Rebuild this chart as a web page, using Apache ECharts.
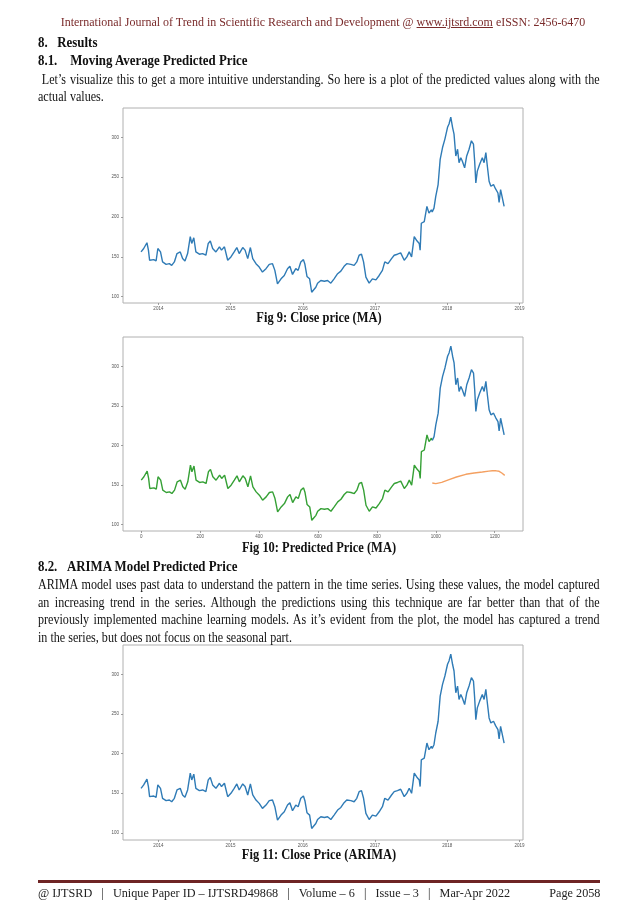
<!DOCTYPE html>
<html>
<head>
<meta charset="utf-8">
<script src="https://cdn.jsdelivr.net/npm/echarts@6/dist/echarts.min.js"></script>
<style>
  html, body { margin: 0; padding: 0; background: #fff; }
  #page { position: relative; width: 638px; height: 903px; overflow: hidden; font-family: "Liberation Serif", "DejaVu Serif", serif; color: #111; }
  #chart { position: absolute; left: 0; top: 0; width: 638px; height: 903px; }
  .t { position: absolute; white-space: nowrap; }
  .hdr { left: 4px; width: 638px; text-align: center; font-size: 12.6px; color: #7a2b2b; top: 15px; transform: scaleX(0.95); transform-origin: 319px 0; }
  .hdr u { text-decoration: underline; }
  .h { left: 38px; font-weight: bold; font-size: 14px; transform: scaleX(0.92); transform-origin: 0 0; }
  .l { left: 38px; width: 631px; font-size: 13.6px; line-height: 17px; text-align: justify; text-align-last: justify; transform: scaleX(0.89); transform-origin: 0 0; }
  .l.last { text-align-last: left; }
  .cap { left: 0; width: 638px; text-align: center; font-weight: bold; font-size: 14px; transform: scaleX(0.89); transform-origin: 319px 0; }
  .rule { position: absolute; left: 38px; width: 562px; top: 880px; height: 3px; background: #6e2424; }
  .foot { top: 886px; font-size: 12.5px; color: #222; transform: scaleX(0.975); }
</style>
</head>
<body>
<div id="page">
  <div id="chart"></div>
  <div class="t hdr">International Journal of Trend in Scientific Research and Development @ <u>www.ijtsrd.com</u> eISSN: 2456-6470</div>
  <div class="t h" style="top:35px">8.&nbsp;&nbsp;&nbsp;Results</div>
  <div class="t h" style="top:53px">8.1.&nbsp;&nbsp;&nbsp;&nbsp;Moving Average Predicted Price</div>
  <div class="t l" style="top:71px">&nbsp;Let’s visualize this to get a more intuitive understanding. So here is a plot of the predicted values along with the</div>
  <div class="t l last" style="top:88px">actual values.</div>
  <div class="t cap" style="top:310px">Fig 9: Close price (MA)</div>
  <div class="t cap" style="top:540px">Fig 10: Predicted Price (MA)</div>
  <div class="t h" style="top:559px">8.2.&nbsp;&nbsp;&nbsp;ARIMA Model Predicted Price</div>
  <div class="t l" style="top:576px">ARIMA model uses past data to understand the pattern in the time series. Using these values, the model captured</div>
  <div class="t l" style="top:594px">an increasing trend in the series. Although the predictions using this technique are far better than that of the</div>
  <div class="t l" style="top:611px">previously implemented machine learning models. As it’s evident from the plot, the model has captured a trend</div>
  <div class="t l last" style="top:629px">in the series, but does not focus on the seasonal part.</div>
  <div class="t cap" style="top:847px">Fig 11: Close Price (ARIMA)</div>
  <div class="rule"></div>
  <div class="t foot" style="left:38px; transform-origin:0 0">@ IJTSRD&nbsp;&nbsp;&nbsp;|&nbsp;&nbsp;&nbsp;Unique Paper ID – IJTSRD49868&nbsp;&nbsp;&nbsp;|&nbsp;&nbsp;&nbsp;Volume – 6&nbsp;&nbsp;&nbsp;|&nbsp;&nbsp;&nbsp;Issue – 3&nbsp;&nbsp;&nbsp;|&nbsp;&nbsp;&nbsp;Mar-Apr 2022</div>
  <div class="t foot" style="right:38px; transform-origin:100% 0">Page 2058</div>
</div>
<script>
// ---- data ----
const tradingDay = [0,9,20,25,29,34,43,51,57,66,73,85,96,104,113,122,133,141,149,158,167,172,179,186,198,209,220,228,235,243,254,266,273,283,294,305,316,325,333,345,353,362,371,379,390,401,412,424,435,446,454,463,475,486,497,505,514,525,533,542,551,556,563,572,579,585,593,599,610,622,633,644,655,667,678,689,698,712,723,732,740,748,755,763,774,785,797,808,819,827,838,850,859,870,881,893,902,910,918,927,936,944,947,951,961,970,977,985,988,994,1000,1008,1015,1023,1031,1040,1045,1051,1057,1062,1068,1074,1079,1085,1090,1098,1105,1113,1121,1128,1132,1136,1141,1149,1158,1164,1170,1175,1181,1187,1196,1203,1211,1215,1220,1226,1232];
const closePrice = [156.2,160.5,167.7,158.4,145.7,143.6,146.5,144.8,160.5,156.2,143.6,140.6,141.4,139.3,143.6,154.1,156.2,147.8,144.8,154.1,175.3,166.8,174.0,156.2,153.3,154.1,152.0,166.8,169.8,160.5,156.2,162.6,158.4,162.6,145.7,149.9,156.2,161.7,154.1,161.7,158.4,147.8,161.7,147.8,141.4,137.2,130.9,135.1,140.6,141.4,133.0,116.1,122.4,126.6,135.1,138.1,127.9,135.1,133.0,143.6,146.5,140.6,125.4,122.4,105.5,104.2,111.8,116.9,120.3,119.4,120.3,116.9,122.4,128.8,132.1,138.1,141.4,140.6,139.3,143.6,152.0,153.3,143.6,124.5,116.9,122.4,121.1,126.6,133.0,143.6,141.4,147.8,152.0,153.3,155.0,145.7,149.9,156.2,149.9,175.3,170.2,166.8,158.4,192.2,194.3,213.3,204.9,209.1,206.5,211.2,226.0,240.8,272.5,287.3,297.9,312.7,316.9,325.4,312.7,304.2,276.7,285.2,268.3,274.6,270.4,261.9,276.7,285.2,295.8,291.5,270.4,242.9,257.7,266.2,274.6,268.3,281.0,264.1,245.0,238.7,240.8,235.3,230.2,218.4,234.4,232.3,213.3];
const splitDay = 988;
const predDay = [988,1000,1020,1045,1070,1102,1130,1158,1180,1192,1205,1215,1224,1234];
const predPrice = [152.6,151.9,153.4,156.8,160.2,163.6,165.3,166.5,167.6,168.1,168.0,167.4,165.2,162.3];
const yearTicks = [2014,2015,2016,2017,2018,2019];
const dayTicks = [0,200,400,600,800,1000,1200];
const priceTicks = [100,150,200,250,300];
const firstYear = 2013.76;
const tradingDaysPerYear = 245;

// ---- build ----
const byYear = tradingDay.map((d, i) => [firstYear + d / tradingDaysPerYear, closePrice[i]]);
const trainPts = [], validPts = [];
tradingDay.forEach((d, i) => {
  if (d <= splitDay) trainPts.push([d, closePrice[i]]);
  if (d >= splitDay) validPts.push([d, closePrice[i]]);
});
const predPts = predDay.map((d, i) => [d, predPrice[i]]);

const BLUE = '#2f7bb6', GREEN = '#35a035', ORANGE = '#f4a061';
const grids = [
  { left: 123, top: 108, width: 400, height: 195 },
  { left: 123, top: 337, width: 400, height: 194 },
  { left: 123, top: 645, width: 400, height: 195 }
];
function xAxis(idx, min, max, ticks) {
  return {
    type: 'value', gridIndex: idx, min, max,
    axisLine: { show: false, onZero: false }, splitLine: { show: false },
    axisTick: { show: true, length: 2, lineStyle: { color: '#888', width: 0.8 }, customValues: ticks },
    axisLabel: { fontSize: 4.5, color: '#555', margin: 3, customValues: ticks, formatter: v => String(Math.round(v)) }
  };
}
function yAxis(idx, min, max) {
  return {
    type: 'value', gridIndex: idx, min, max,
    axisLine: { show: false, onZero: false }, splitLine: { show: false },
    axisTick: { show: true, length: 2, lineStyle: { color: '#888', width: 0.8 }, customValues: priceTicks },
    axisLabel: { fontSize: 4.5, color: '#555', margin: 4, customValues: priceTicks }
  };
}
function line(xi, data, color) {
  return { type: 'line', xAxisIndex: xi, yAxisIndex: xi, data, showSymbol: false, symbol: 'none',
           lineStyle: { color, width: 1.4 }, animation: false, silent: true };
}
const chart = echarts.init(document.getElementById('chart'), null, { renderer: 'canvas' });
chart.setOption({
  animation: false,
  grid: grids.map(g => Object.assign({ show: true, borderColor: '#b0b0b0', borderWidth: 1, backgroundColor: '#fff' }, g)),
  xAxis: [
    xAxis(0, 2013.51, 2019.05, yearTicks),
    xAxis(1, -62, 1296, dayTicks),
    xAxis(2, 2013.51, 2019.05, yearTicks)
  ],
  yAxis: [yAxis(0, 92, 337), yAxis(1, 92, 337), yAxis(2, 91, 337)],
  series: [
    line(0, byYear, BLUE),
    line(1, trainPts, GREEN),
    line(1, validPts, BLUE),
    line(1, predPts, ORANGE),
    line(2, byYear, BLUE)
  ]
});
</script>
</body>
</html>
